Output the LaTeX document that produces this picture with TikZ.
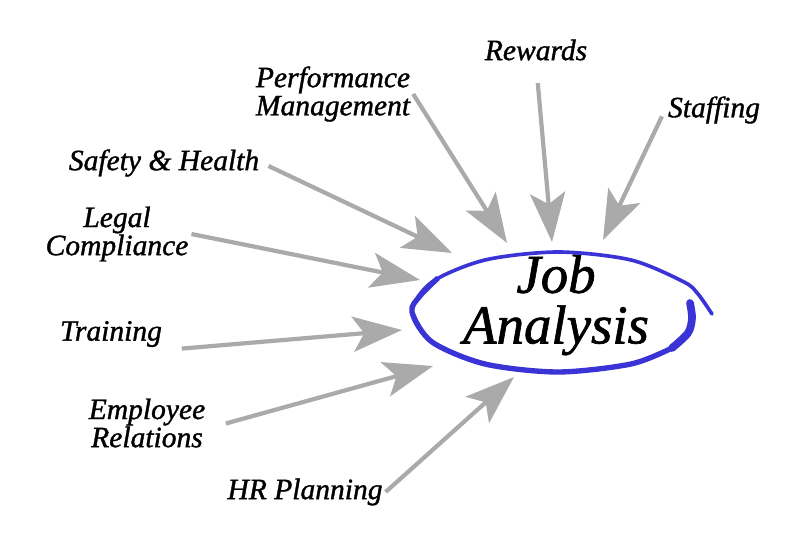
\documentclass[tikz,border=0pt]{standalone}
\usepackage{fontspec}
\setmainfont{Liberation Serif}
\newfontfamily\lblfont{Liberation Serif}[FakeBold=1.2]
\usetikzlibrary{arrows.meta, positioning}
\definecolor{arrowgray}{RGB}{170,170,170}
\definecolor{jobblue}{RGB}{58,52,214}

\begin{document}
\begin{tikzpicture}[
	x=0.025cm, y=-0.025cm,
	lbl/.style={font=\lblfont\itshape\fontsize{21}{20}\selectfont, align=center, inner sep=2pt},
	feed/.style={draw=arrowgray, line width=3pt, -{Stealth[length=35pt,width=25pt,inset=8pt]}},
	ring/.style={draw=jobblue, line width=2.6pt, line cap=round, line join=round}
]
\useasboundingbox (0,0) rectangle (800,537);

% centre
\node[font=\lblfont\itshape\fontsize{39}{36}\selectfont, align=center] (job) at (556,305) {Job\\Analysis};
\draw[ring] plot[smooth] coordinates {(712,314) (698,294) (684,282) (631,260) (558,252) (485,260) (432,282) (412,312) (432,342) (485,364) (558,372) (631,364) (672,348) (688,333) (692,318) (690,303)};
\draw[ring, line width=3.8pt, line cap=butt] plot[smooth] coordinates {(438,278) (420,296) (412,312) (432,342) (485,364) (558,372) (631,364) (672,348)};
\draw[ring, line width=5.5pt] plot[smooth] coordinates {(672,348) (688,333) (692,318) (690,303)};

% labels
\node[lbl] (rew)   at (536,50)  {Rewards};
\node[lbl] (perf)  at (333,94)  {Performance\\Management};
\node[lbl] (staff) at (714,110) {Staffing};
\node[lbl] (safe)  at (164,163) {Safety \& Health};
\node[lbl] (legal) at (117,234) {Legal\\Compliance};
\node[lbl] (train) at (111,334) {Training};
\node[lbl] (empl)  at (147,423) {Employee\\Relations};
\node[lbl] (hrp)   at (305,492) {HR Planning};

% arrow tips
\coordinate (t-perf)  at (507,243);
\coordinate (t-rew)   at (552,242);
\coordinate (t-staff) at (603,240);
\coordinate (t-safe)  at (452,253);
\coordinate (t-legal) at (420,280);
\coordinate (t-train) at (402,330);
\coordinate (t-empl)  at (433,366);
\coordinate (t-hrp)   at (514,377);

\path	(perf.east)  edge [feed] (t-perf)
	(rew.south)  edge [feed, shorten <=14pt] (t-rew)
	(staff.west) edge [feed, shorten <=5pt] (t-staff)
	(safe.east)  edge [feed, shorten <=5pt] (t-safe)
	(legal.east) edge [feed] (t-legal)
	(train.south east) edge [feed, shorten <=12pt] (t-train)
	(empl.-5)    edge [feed, shorten <=13pt] (t-empl)
	(hrp.east)   edge [feed] (t-hrp);
\end{tikzpicture}
\end{document}
